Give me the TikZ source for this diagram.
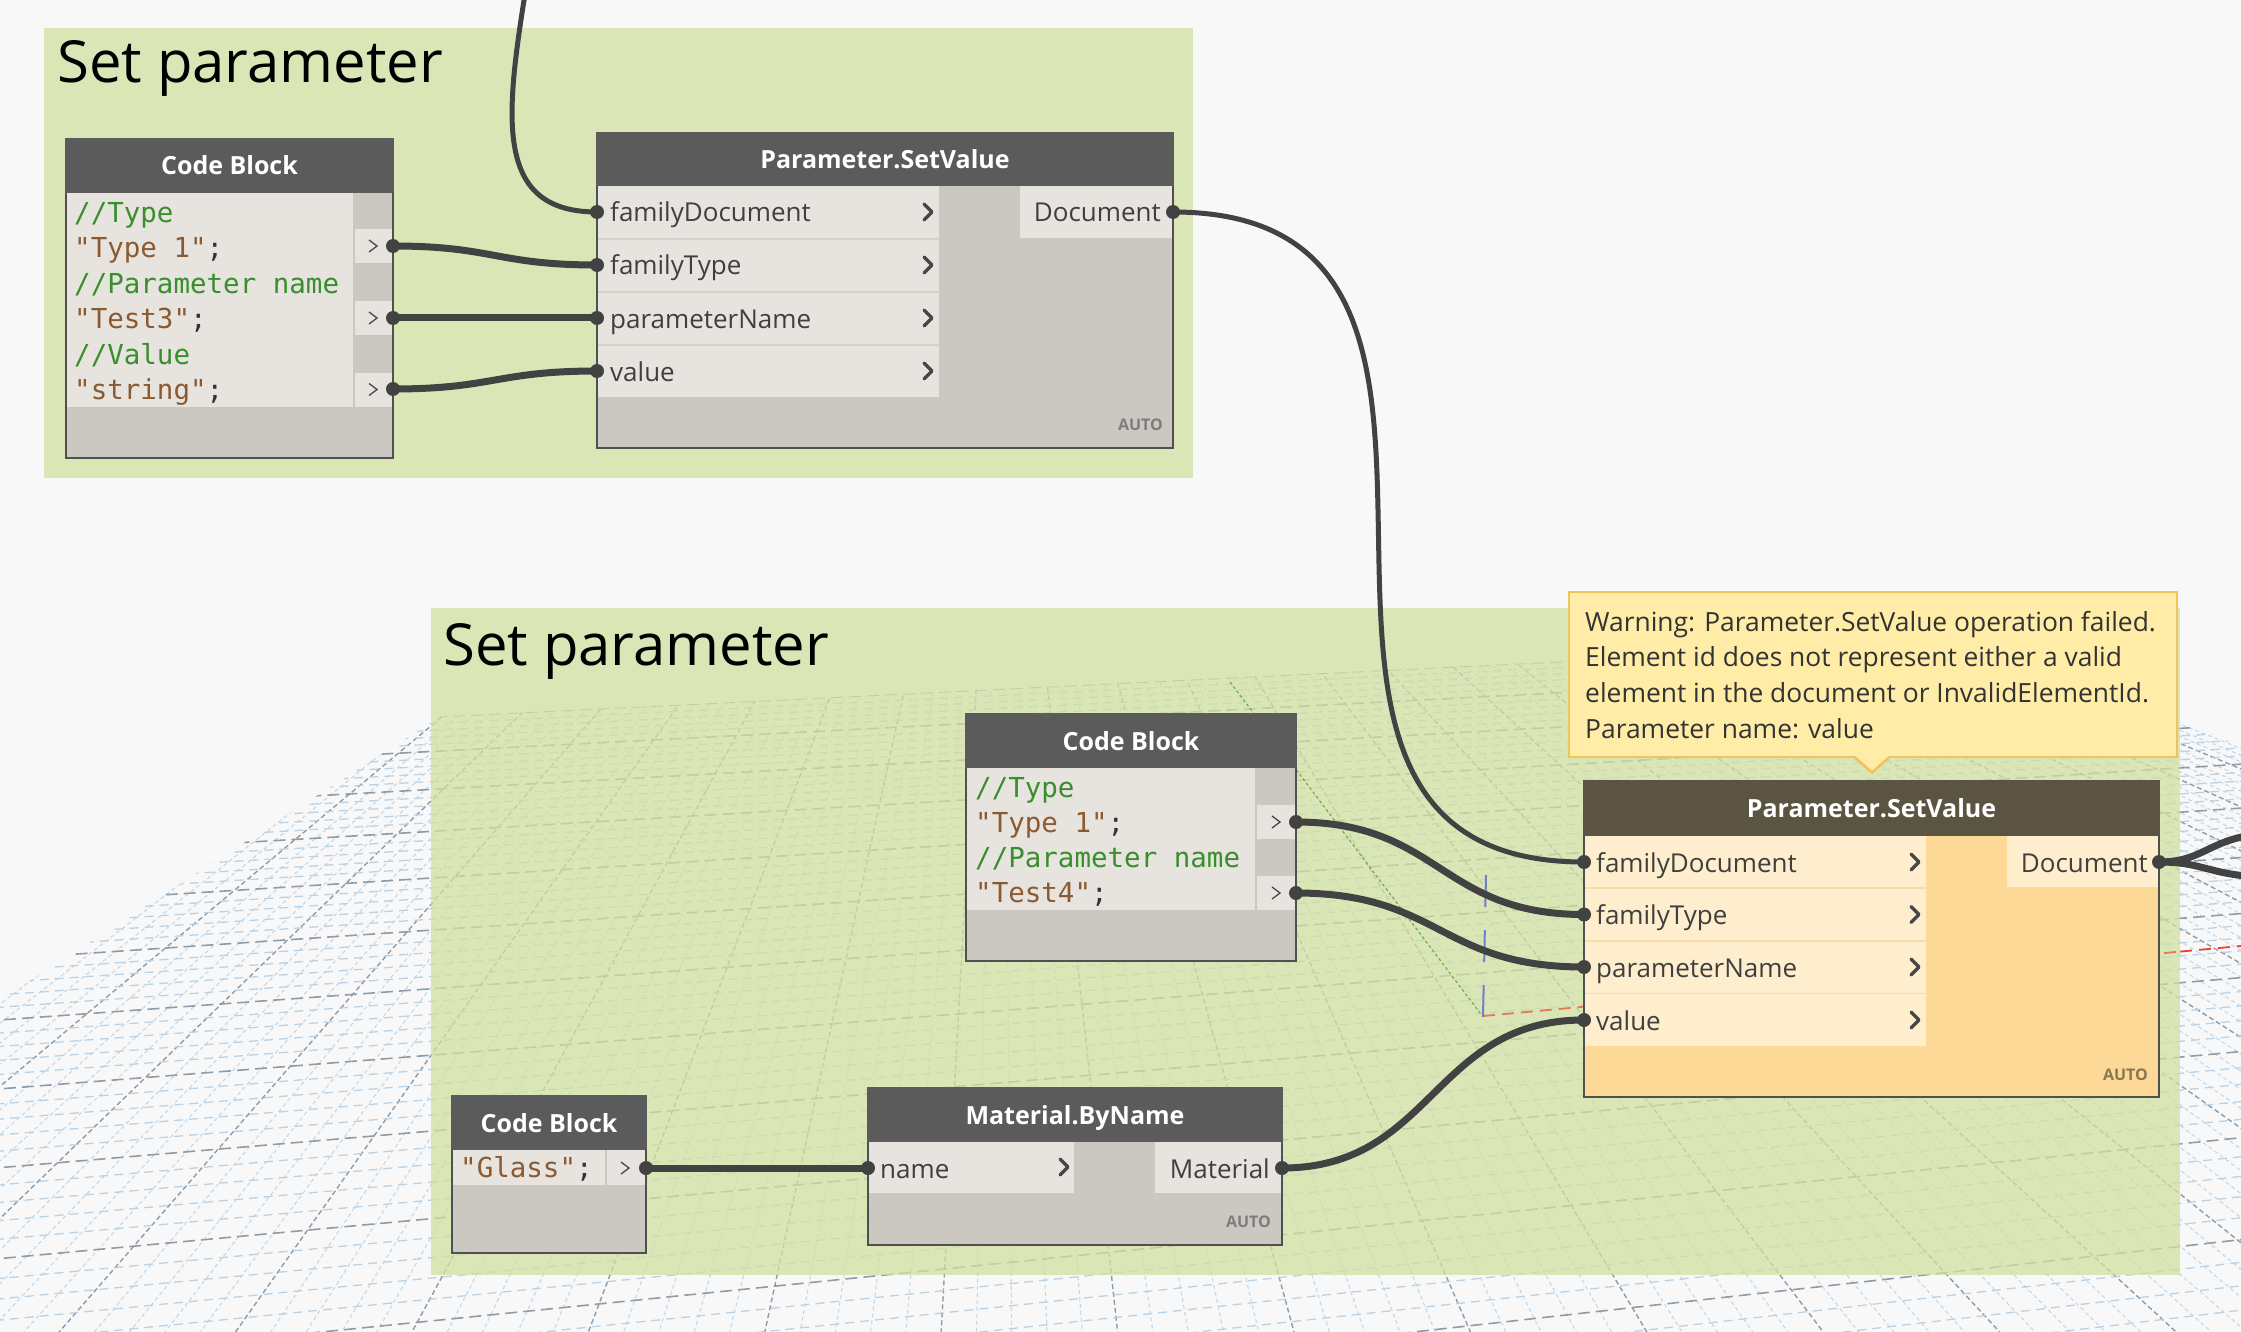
\documentclass[tikz,border=0pt]{standalone}
\usepackage{fontspec}
\setmainfont{Open Sans}
\newfontfamily\codefont{DejaVu Sans Mono}
\usetikzlibrary{calc}
\definecolor{bgc}{HTML}{F8F8F8}
\definecolor{groupgreen}{HTML}{D2E0A1}
\definecolor{hdrgray}{HTML}{5B5B5B}
\definecolor{hdrbrown}{HTML}{5C5443}
\definecolor{nodebody}{HTML}{CBC7C1}
\definecolor{rowlight}{HTML}{E7E4E0}
\definecolor{rowsep}{HTML}{D4D0CB}
\definecolor{nodeborder}{HTML}{505050}
\definecolor{orangebody}{HTML}{FCD996}
\definecolor{orangerow}{HTML}{FEEECD}
\definecolor{orangesep}{HTML}{F8DCA6}
\definecolor{wirec}{HTML}{424242}
\definecolor{portlabel}{HTML}{3F3F3F}
\definecolor{chevc}{HTML}{474747}
\definecolor{codegreen}{HTML}{3A8E2C}
\definecolor{codebrown}{HTML}{8B5A30}
\definecolor{codedark}{HTML}{333333}
\definecolor{tipfill}{HTML}{FFECA6}
\definecolor{tipborder}{HTML}{F2C25C}
\definecolor{tiptext}{HTML}{333333}
\definecolor{autogray}{HTML}{7D7D7D}
\definecolor{autobrown}{HTML}{8A7752}
\definecolor{gminor}{HTML}{B9D2E6}
\definecolor{gminorA}{HTML}{C4D8E8}
\definecolor{gmajor}{HTML}{8F9BA6}
\definecolor{axgreen}{HTML}{6FAF45}
\definecolor{axblue}{HTML}{6C7FD0}
\definecolor{axred}{HTML}{E8402A}
\definecolor{axorange}{HTML}{E27A52}
\begin{document}
\begin{tikzpicture}[x=1pt,y=-1pt,
  wire/.style={draw=wirec, line width=7},
  thinwire/.style={draw=wirec, line width=5},
  nodebox/.style={draw=nodeborder, line width=2, fill=nodebody, inner sep=0, outer sep=0, anchor=north west},
  nodeboxor/.style={draw=nodeborder, line width=2, fill=orangebody, inner sep=0, outer sep=0, anchor=north west},
  hdrtext/.style={text=white, font=\fontsize{25}{29}\selectfont\bfseries, inner sep=0, anchor=base},
  plabel/.style={text=portlabel, font=\fontsize{26}{30}\selectfont, inner sep=0},
  codet/.style={font=\codefont\fontsize{27.5}{32}\selectfont, inner sep=0, anchor=base west},
  chev/.style={draw=chevc, line width=3.4, line cap=round, line join=round},
  cbport/.style={draw=chevc, line width=1.3},
  autot/.style={text=autogray, font=\fontsize{16}{18}\selectfont\bfseries, inner sep=0, anchor=base east},
  titlet/.style={font=\fontsize{58}{70}\selectfont, inner sep=0, text=black, anchor=base west},
  tipt/.style={font=\fontsize{26.4}{30}\selectfont, inner sep=0, text=tiptext, anchor=base west},
  gridAmin/.style={draw=gminorA, line width=1.1, dash pattern=on 4pt off 3pt},
  gridAmaj/.style={draw=gmajor, line width=1.4, dash pattern=on 5pt off 3pt},
  gridBmin/.style={draw=gminor, line width=1.3, dash pattern=on 9pt off 6pt},
  gridBmaj/.style={draw=gmajor, line width=1.6, dash pattern=on 12pt off 6pt},
  groupbox/.style={fill=groupgreen, fill opacity=0.75, inner sep=0, outer sep=0, anchor=north west}
]
\fill[bgc] (0,0) rectangle (2241,1332);
\useasboundingbox (0,0) rectangle (2241,1332);

% ---------- perspective grid ----------
\begin{scope}
  \clip (0,1000) -- (440,716.5) -- (1978.6,641) -- (2241,746) -- (2241,1340) -- (0,1340) -- cycle;
  \foreach \k in {-15,...,104}{
    \pgfmathsetmacro{\xb}{\k*37.5}
    \pgfmathtruncatemacro{\km}{mod(\k+1000,5)}
    \ifnum\km=0\relax
      \draw[gridAmaj] (1000,250) -- (\xb,1400);
    \else
      \draw[gridAmin] (1000,250) -- (\xb,1400);
    \fi
  }
  \foreach \n in {50,...,110}{
    \pgfmathsetmacro{\yn}{100*(758/\n)}
    \pgfmathsetmacro{\sl}{(150-\yn)/11000}
    \pgfmathsetmacro{\ya}{\yn-\sl*1050}
    \pgfmathsetmacro{\yb}{\yn+\sl*1300}
    \pgfmathtruncatemacro{\nm}{mod(\n,5)}
    \ifnum\nm=0\relax
      \draw[gridBmaj] (-50,\ya) -- (2300,\yb);
    \else
      \draw[gridBmin] (-50,\ya) -- (2300,\yb);
    \fi
  }
\end{scope}
\draw[axred, line width=1.8, dash pattern=on 12pt off 7pt] (2180,951.6) -- (2241,946);

% ---------- groups ----------
\node[groupbox, minimum width=1149, minimum height=450] (grp1) at (44,28) {};
\node[groupbox, minimum width=1749, minimum height=667] (grp2) at (431,608) {};
\node[titlet] (grp1title) at (57,83) {Set parameter};
\node[titlet] (grp2title) at (443,665) {Set parameter};

% axis lines of the 3D preview, seen through the group
\draw[axgreen, line width=1.2, dash pattern=on 3pt off 2.5pt] (1230,682) -- (1483,1017);
\draw[axorange, line width=1.8, dash pattern=on 12pt off 7pt] (1483,1016) -- (2180,951.6);
\draw[axblue, line width=2, dash pattern=on 32pt off 23pt] (1483,1017) -- (1486,875);

% ---------- port coordinates ----------
\coordinate (topsrc) at (525,-6);
\coordinate (cb1o1) at (393,246);
\coordinate (cb1o2) at (393,318);
\coordinate (cb1o3) at (393,389);
\coordinate (sv1i1) at (597,212);
\coordinate (sv1i2) at (597,265);
\coordinate (sv1i3) at (597,318);
\coordinate (sv1i4) at (597,371);
\coordinate (sv1o) at (1173,212);
\coordinate (cb2o1) at (1296,822);
\coordinate (cb2o2) at (1296,893);
\coordinate (sv2i1) at (1584,862);
\coordinate (sv2i2) at (1584,914.5);
\coordinate (sv2i3) at (1584,967);
\coordinate (sv2i4) at (1584,1020);
\coordinate (sv2o) at (2159,862);
\coordinate (offa) at (2246,836);
\coordinate (offb) at (2246,876);
\coordinate (cb3o) at (646,1168);
\coordinate (mati) at (868,1168);
\coordinate (mato) at (1282,1168);

% ---------- wires ----------
\draw[thinwire] (topsrc) .. controls +(-20,126) and +(-102,0) .. (sv1i1);
\draw[wire] (cb1o1) .. controls +(100,0) and +(-100,0) .. (sv1i2);
\draw[wire] (cb1o2) .. controls +(100,0) and +(-100,0) .. (sv1i3);
\draw[wire] (cb1o3) .. controls +(100,0) and +(-100,0) .. (sv1i4);
\draw[thinwire] (sv1o) .. controls +(400,0) and +(-400,0) .. (sv2i1);
\draw[wire] (cb2o1) .. controls +(144,0) and +(-144,0) .. (sv2i2);
\draw[wire] (cb2o2) .. controls +(144,0) and +(-144,0) .. (sv2i3);
\draw[wire] (cb3o) -- (mati);
\draw[wire] (mato) .. controls +(151,0) and +(-151,0) .. (sv2i4);
\draw[wire] (sv2o) .. controls +(40,0) and +(-40,8) .. (offa);
\draw[wire] (sv2o) .. controls +(40,0) and +(-40,-4) .. (offb);

% ---------- Code Block 1 ----------
\node[nodebox, minimum width=327, minimum height=319] (cb1) at (66,139) {};
\fill[hdrgray] (65,138) rectangle (394,193);
\node[hdrtext] (cb1h) at (229.5,174.5) {Code Block};
\fill[rowlight] (67,193) rectangle (353,407);
\fill[rowlight] (355,229) rectangle (392,263);
\fill[rowlight] (355,301) rectangle (392,335);
\fill[rowlight] (355,372.5) rectangle (392,406.5);
\draw[cbport] (369,240) -- (377,246) -- (369,252);
\draw[cbport] (369,312) -- (377,318) -- (369,324);
\draw[cbport] (369,383.5) -- (377,389.5) -- (369,395.5);
\node[codet, text=codegreen] (cb1l1) at (74,222.5) {//Type};
\node[codet] (cb1l2) at (74,257.9) {\color{codebrown}"Type 1"\color{codedark};};
\node[codet, text=codegreen] (cb1l3) at (74,293.3) {//Parameter name};
\node[codet] (cb1l4) at (74,328.7) {\color{codebrown}"Test3"\color{codedark};};
\node[codet, text=codegreen] (cb1l5) at (74,364.1) {//Value};
\node[codet] (cb1l6) at (74,399.5) {\color{codebrown}"string"\color{codedark};};

% ---------- Parameter.SetValue 1 ----------
\node[nodebox, minimum width=576, minimum height=315] (sv1) at (597,133) {};
\fill[hdrgray] (596,132) rectangle (1174,186);
\node[hdrtext] (sv1h) at (885,168.5) {Parameter.SetValue};
\fill[rowlight] (598,186) rectangle (939,397);
\draw[rowsep, line width=1.5] (598,239) -- (939,239) (598,292) -- (939,292) (598,345) -- (939,345);
\fill[rowlight] (1020,186) rectangle (1172,238);
\node[plabel, anchor=base west] (sv1l1) at (610,222) {familyDocument};
\node[plabel, anchor=base west] (sv1l2) at (610,275) {familyType};
\node[plabel, anchor=base west] (sv1l3) at (610,328) {parameterName};
\node[plabel, anchor=base west] (sv1l4) at (610,381) {value};
\node[plabel, anchor=base east] (sv1out) at (1161,222) {Document};
\foreach \yy in {212,265,318,371}{\draw[chev] (924,\yy-8) -- (932,\yy) -- (924,\yy+8);}
\node[autot] (sv1auto) at (1163,430) {AUTO};

% ---------- Code Block 2 ----------
\node[nodebox, minimum width=330, minimum height=247] (cb2) at (966,714) {};
\fill[hdrgray] (965,713) rectangle (1297,768);
\node[hdrtext] (cb2h) at (1131,750) {Code Block};
\fill[rowlight] (967,768) rectangle (1255,910);
\fill[rowlight] (1257,805) rectangle (1295,839);
\fill[rowlight] (1257,876) rectangle (1295,910);
\draw[cbport] (1272,816) -- (1280,822) -- (1272,828);
\draw[cbport] (1272,887) -- (1280,893) -- (1272,899);
\node[codet, text=codegreen] (cb2l1) at (975,797.5) {//Type};
\node[codet] (cb2l2) at (975,832.5) {\color{codebrown}"Type 1"\color{codedark};};
\node[codet, text=codegreen] (cb2l3) at (975,867.5) {//Parameter name};
\node[codet] (cb2l4) at (975,902.5) {\color{codebrown}"Test4"\color{codedark};};

% ---------- Code Block 3 ----------
\node[nodebox, minimum width=194, minimum height=157] (cb3) at (452,1096) {};
\fill[hdrgray] (451,1095) rectangle (647,1150);
\node[hdrtext] (cb3h) at (549,1132) {Code Block};
\fill[rowlight] (453,1150) rectangle (605,1185);
\fill[rowlight] (607,1150) rectangle (645,1185);
\draw[cbport] (621,1162) -- (629,1168) -- (621,1174);
\node[codet] (cb3l1) at (460,1177.5) {\color{codebrown}"Glass"\color{codedark};};

% ---------- Material.ByName ----------
\node[nodebox, minimum width=414, minimum height=157] (mat) at (868,1088) {};
\fill[hdrgray] (867,1087) rectangle (1283,1142);
\node[hdrtext] (math) at (1075,1124) {Material.ByName};
\fill[rowlight] (869,1142) rectangle (1074,1193);
\fill[rowlight] (1155,1142) rectangle (1281,1193);
\node[plabel, anchor=base west] (matl1) at (880,1178) {name};
\node[plabel, anchor=base east] (matout) at (1270,1178) {Material};
\draw[chev] (1060,1159) -- (1068,1167) -- (1060,1175);
\node[autot] (matauto) at (1271,1227) {AUTO};

% ---------- Parameter.SetValue 2 (warning) ----------
\node[nodeboxor, minimum width=575, minimum height=316] (sv2) at (1584,781) {};
\fill[hdrbrown] (1583,780) rectangle (2160,836);
\node[hdrtext] (sv2h) at (1871.5,817.5) {Parameter.SetValue};
\fill[orangerow] (1585,836) rectangle (1926,1046);
\draw[orangesep, line width=1.5] (1585,888) -- (1926,888) (1585,941) -- (1926,941) (1585,993.5) -- (1926,993.5);
\fill[orangerow] (2007,836) rectangle (2158,887);
\node[plabel, anchor=base west] (sv2l1) at (1596,872) {familyDocument};
\node[plabel, anchor=base west] (sv2l2) at (1596,924.5) {familyType};
\node[plabel, anchor=base west] (sv2l3) at (1596,977) {parameterName};
\node[plabel, anchor=base west] (sv2l4) at (1596,1030) {value};
\node[plabel, anchor=base east] (sv2out) at (2148,872) {Document};
\foreach \yy in {862,914.5,967,1020}{\draw[chev] (1911,\yy-8) -- (1919,\yy) -- (1911,\yy+8);}
\node[autot, text=autobrown] (sv2auto) at (2148,1080) {AUTO};

% ---------- port dots ----------
\foreach \p in {cb1o1,cb1o2,cb1o3,sv1i1,sv1i2,sv1i3,sv1i4,sv1o,cb2o1,cb2o2,sv2i1,sv2i2,sv2i3,sv2i4,sv2o,cb3o,mati,mato}{
  \fill[wirec] (\p) circle (7);
}

% ---------- warning tooltip ----------
\node[draw=tipborder, fill=tipfill, line width=2.5, inner sep=0, outer sep=0, anchor=north west, minimum width=608, minimum height=165] (tip) at (1569,592) {};
\fill[tipfill] (1853,754) -- (1891,754) -- (1872,773) -- cycle;
\draw[tipborder, line width=2.5, line join=miter] (1855,757.5) -- (1872,772.5) -- (1889,757.5);
\node[tipt] (tip1) at (1585,631) {Warning: Parameter.SetValue operation failed.};
\node[tipt] (tip2) at (1585,666.5) {Element id does not represent either a valid};
\node[tipt] (tip3) at (1585,702) {element in the document or InvalidElementId.};
\node[tipt] (tip4) at (1585,738) {Parameter name: value};
\end{tikzpicture}
\end{document}
